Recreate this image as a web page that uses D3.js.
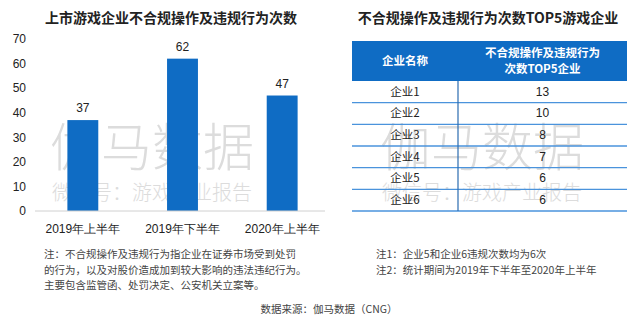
<!DOCTYPE html>
<html>
<head>
<meta charset="utf-8">
<script src="https://cdn.jsdelivr.net/npm/d3@7"></script>
<style>
  body { margin: 0; background: #fff; }
  svg { display: block; font-family: "Noto Sans CJK SC", "Liberation Sans", sans-serif; }
</style>
</head>
<body>
<div id="chart"></div>
<script>
/*
    Data
*/
var periods = ["2019年上半年", "2019年下半年", "2020年上半年"];
var counts = [37, 62, 47];
var yTicks = [0, 10, 20, 30, 40, 50, 60, 70];

var companies = ["企业1", "企业2", "企业3", "企业4", "企业5", "企业6"];
var companyCounts = [13, 10, 8, 7, 6, 6];
var tableHeader = ["企业名称", "不合规操作及违规行为", "次数TOP5企业"];

var leftNotes = [
    "注：不合规操作及违规行为指企业在证券市场受到处罚",
    "的行为，以及对股价造成加到较大影响的违法违纪行为。",
    "主要包含监管函、处罚决定、公安机关立案等。"
];
var rightNotes = [
    "注1：企业5和企业6违规次数均为6次",
    "注2：统计期间为2019年下半年至2020年上半年"
];

var blue = "#0f6cc4";

var svg = d3.select("#chart").append("svg")
    .attr("width", 640)
    .attr("height", 328);

/*
    Watermarks sit behind everything
*/
function watermark(cx) {
    var g = svg.append("g").attr("fill", "#dcdcdc").attr("text-anchor", "middle")
        .style("font-weight", "300");
    g.append("text").attr("x", cx).attr("y", 166)
        .style("font-size", "51px").text("伽马数据");
    g.append("text").attr("x", cx).attr("y", 200)
        .style("font-size", "20px").text("微信号：游戏产业报告");
}
watermark(152);
watermark(482);

/*
    Left: bar chart
*/
svg.append("text")
    .attr("x", 171).attr("y", 23)
    .attr("text-anchor", "middle")
    .style("font-size", "14px").style("font-weight", "bold").style("fill", "#222")
    .text("上市游戏企业不合规操作及违规行为次数");

var x = d3.scaleBand()
    .domain(periods)
    .range([33, 332])
    .paddingInner(0.69)
    .paddingOuter(0.345);

var y = d3.scaleLinear()
    .domain([0, 70])
    .range([211, 39]);

var yAxis = svg.append("g")
    .attr("transform", "translate(26,0)")
    .call(d3.axisLeft(y).tickValues(yTicks).tickSize(0).tickPadding(0));
yAxis.select(".domain").remove();
yAxis.selectAll("text")
    .style("font-size", "12px").style("fill", "#222")
    .style("font-family", "'Liberation Sans', Arial, sans-serif");

svg.append("g")
    .selectAll("rect")
    .data(counts)
    .enter()
    .append("rect")
    .attr("x", function (d, i) { return x(periods[i]); })
    .attr("y", function (d) { return y(d); })
    .attr("width", x.bandwidth())
    .attr("height", function (d) { return y(0) - y(d); })
    .style("fill", blue);

svg.append("line")
    .attr("x1", 35).attr("x2", 325)
    .attr("y1", y(0)).attr("y2", y(0))
    .style("stroke", "#d0d0d0").style("stroke-width", 1);

svg.append("g")
    .selectAll("text")
    .data(counts)
    .enter()
    .append("text")
    .attr("x", function (d, i) { return x(periods[i]) + x.bandwidth() / 2; })
    .attr("y", function (d) { return y(d) - 8; })
    .attr("text-anchor", "middle")
    .style("font-size", "12px").style("fill", "#222")
    .style("font-family", "'Liberation Sans', Arial, sans-serif")
    .text(function (d) { return d; });

var xAxis = svg.append("g")
    .attr("transform", "translate(0," + y(0) + ")")
    .call(d3.axisBottom(x).tickSize(0).tickPadding(13));
xAxis.select(".domain").remove();
xAxis.selectAll("text")
    .style("font-size", "12px").style("fill", "#222");

/*
    Right: TOP5 table
*/
svg.append("text")
    .attr("x", 488).attr("y", 23)
    .attr("text-anchor", "middle")
    .style("font-size", "14px").style("font-weight", "bold").style("fill", "#222")
    .text("不合规操作及违规行为次数TOP5游戏企业");

var tLeft = 352, tRight = 627, tDiv = 458, tTop = 41, headH = 40;
var rowY = d3.scaleBand()
    .domain(companies)
    .range([tTop + headH, 211]);

svg.append("rect")
    .attr("x", tLeft).attr("y", tTop)
    .attr("width", tRight - tLeft).attr("height", headH)
    .style("fill", blue);

svg.append("text")
    .attr("x", (tLeft + tDiv) / 2).attr("y", tTop + headH / 2 + 4)
    .attr("text-anchor", "middle")
    .style("font-size", "11.5px").style("font-weight", "bold").style("fill", "#fff")
    .text(tableHeader[0]);
svg.append("text")
    .attr("x", (tDiv + tRight) / 2).attr("y", tTop + 16)
    .attr("text-anchor", "middle")
    .style("font-size", "11.5px").style("font-weight", "bold").style("fill", "#fff")
    .text(tableHeader[1]);
svg.append("text")
    .attr("x", (tDiv + tRight) / 2).attr("y", tTop + 32)
    .attr("text-anchor", "middle")
    .style("font-size", "11.5px").style("font-weight", "bold").style("fill", "#fff")
    .text(tableHeader[2]);

var rows = svg.append("g")
    .selectAll("g")
    .data(companies)
    .enter()
    .append("g")
    .attr("transform", function (d) { return "translate(0," + rowY(d) + ")"; });

rows.append("line")
    .attr("x1", tLeft).attr("x2", tRight)
    .attr("y1", rowY.bandwidth()).attr("y2", rowY.bandwidth())
    .style("stroke", "#4a93dc").style("stroke-width", 1.3);

rows.append("text")
    .attr("x", (tLeft + tDiv) / 2)
    .attr("y", rowY.bandwidth() / 2 + 4)
    .attr("text-anchor", "middle")
    .style("font-size", "11.5px").style("fill", "#222")
    .text(function (d) { return d; });

rows.append("text")
    .attr("x", (tDiv + tRight) / 2)
    .attr("y", rowY.bandwidth() / 2 + 4)
    .attr("text-anchor", "middle")
    .style("font-size", "12px").style("fill", "#222")
    .style("font-family", "'Liberation Sans', Arial, sans-serif")
    .text(function (d, i) { return companyCounts[i]; });

svg.append("line")
    .attr("x1", tDiv).attr("x2", tDiv)
    .attr("y1", tTop + headH).attr("y2", 211)
    .style("stroke", "#2b6cb0").style("stroke-width", 1.2);

/*
    Notes and source
*/
svg.append("g")
    .selectAll("text")
    .data(leftNotes)
    .enter()
    .append("text")
    .attr("x", 44)
    .attr("y", function (d, i) { return 258 + i * 15.5; })
    .style("font-size", "10.5px").style("fill", "#444")
    .text(function (d) { return d; });

svg.append("g")
    .selectAll("text")
    .data(rightNotes)
    .enter()
    .append("text")
    .attr("x", 376)
    .attr("y", function (d, i) { return 258 + i * 15.5; })
    .style("font-size", "10.5px").style("fill", "#444")
    .text(function (d) { return d; });

svg.append("text")
    .attr("x", 329).attr("y", 313)
    .attr("text-anchor", "middle")
    .style("font-size", "10.5px").style("fill", "#444")
    .text("数据来源：伽马数据（CNG）");
</script>
</body>
</html>
